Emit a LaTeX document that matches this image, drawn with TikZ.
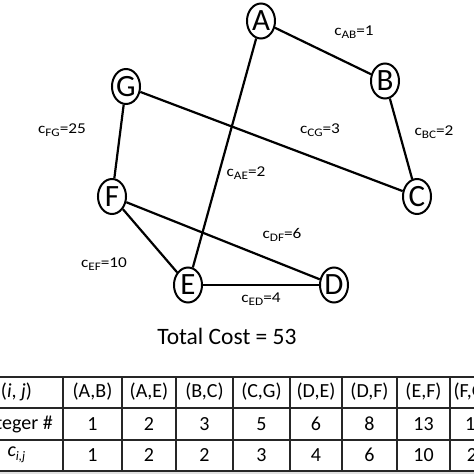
\documentclass[tikz,border=0pt]{standalone}
\usepackage{fontspec}
\setmainfont{Carlito}
\newfontfamily\lblfont[FakeStretch=1.15]{Carlito}
\usetikzlibrary{shapes.geometric}
\begin{document}
\begin{tikzpicture}[x=1pt,y=-1pt,
  vert/.style={ellipse,draw,line width=2pt,minimum width=28pt,minimum height=35pt,inner sep=0pt,font=\fontsize{31}{33}\selectfont},
  conn/.style={line width=2.2pt},
  lbl/.style={inner sep=0pt,font=\lblfont\fontsize{15}{17}\selectfont},
  cell/.style={inner sep=0pt,font=\fontsize{20}{22}\selectfont},
  tline/.style={line width=2pt,black!85}]
\useasboundingbox (0,0) rectangle (474,474);
\clip (0,0) rectangle (474,474);
\fill[white] (0,0) rectangle (474,474);
% vertices
\node[vert] (A) at (261,21) {A};
\node[vert] (B) at (385,81) {B};
\node[vert] (C) at (417,196.5) {C};
\node[vert] (G) at (126,86.5) {G};
\node[vert] (F) at (112,196.5) {F};
\node[vert] (E) at (188,285) {E};
\node[vert] (D) at (334,285) {D};
% edges
\draw[conn] (A) -- (B);
\draw[conn] (A) -- (E);
\draw[conn] (B) -- (C);
\draw[conn] (C) -- (G);
\draw[conn] (F) -- (G);
\draw[conn] (D) -- (F);
\draw[conn] (E) -- (F);
\draw[conn] (E) -- (D);
% labels
\newcommand{\lb}[2]{c\raisebox{-3pt}{\fontsize{11.5}{12}\selectfont #1}=#2}
\node[lbl] (lAB) at (354,32) {\lb{AB}{1}};
\node[lbl] (lBC) at (434,132) {\lb{BC}{2}};
\node[lbl] (lCG) at (320,130) {\lb{CG}{3}};
\node[lbl] (lAE) at (246,173) {\lb{AE}{2}};
\node[lbl] (lFG) at (62,130) {\lb{FG}{25}};
\node[lbl] (lDF) at (282,235) {\lb{DF}{6}};
\node[lbl] (lEF) at (104,264) {\lb{EF}{10}};
\node[lbl] (lED) at (261,299) {\lb{ED}{4}};
\node[inner sep=0pt,font=\fontsize{23.5}{26}\selectfont] (total) at (227,336) {Total Cost = 53};
% table
\fill[black!12] (0,471) rectangle (474,474);
\foreach \yy in {377,408,440,471} \draw[tline] (0,\yy) -- (474,\yy);
\foreach \xx in {63,122,176,233,290,342,397,450} \draw[tline] (\xx,377) -- (\xx,471);
\node[cell] (h0) at (16.5,392) {(\textit{i}, \textit{j})};
\node[cell] (i0) at (16.5,424) {Integer \#};
\node[cell] (c0) at (16.5,455) {\textit{c}\raisebox{-4pt}{\fontsize{13}{14}\selectfont\textit{i,j}}};
\node[cell] (h1) at (92.5,392) {(A,B)};
\node[cell] (h2) at (149,392) {(A,E)};
\node[cell] (h3) at (204.5,392) {(B,C)};
\node[cell] (h4) at (261.5,392) {(C,G)};
\node[cell] (h5) at (316,392) {(D,E)};
\node[cell] (h6) at (369.5,392) {(D,F)};
\node[cell] (h7) at (423.5,392) {(E,F)};
\node[cell] (h8) at (472,392) {(F,G)};
\node[cell] (i1) at (92.5,424) {1};
\node[cell] (i2) at (149,424) {2};
\node[cell] (i3) at (204.5,424) {3};
\node[cell] (i4) at (261.5,424) {5};
\node[cell] (i5) at (316,424) {6};
\node[cell] (i6) at (369.5,424) {8};
\node[cell] (i7) at (423.5,424) {13};
\node[cell,anchor=west] (i8) at (465,424) {1};
\node[cell] (v1) at (92.5,455) {1};
\node[cell] (v2) at (149,455) {2};
\node[cell] (v3) at (204.5,455) {2};
\node[cell] (v4) at (261.5,455) {3};
\node[cell] (v5) at (316,455) {4};
\node[cell] (v6) at (369.5,455) {6};
\node[cell] (v7) at (423.5,455) {10};
\node[cell] (v8) at (477,455) {25};
\end{tikzpicture}
\end{document}
